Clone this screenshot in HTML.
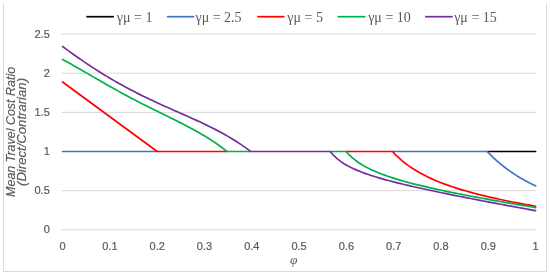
<!DOCTYPE html>
<html><head><meta charset="utf-8"><style>
html,body{margin:0;padding:0;background:#fff;}
body{width:550px;height:276px;overflow:hidden;position:relative;}
svg{position:absolute;left:0;top:0;}
</style></head><body>
<svg width="550" height="276" viewBox="0 0 550 276">
<path d="M3.5,3.5 V271.5 H546.5 V3.5" fill="none" stroke="#d9d9d9" stroke-width="1"/>
<g stroke="#d9d9d9" stroke-width="1"><line x1="61.5" x2="536" y1="229.80" y2="229.80"/><line x1="61.5" x2="536" y1="190.65" y2="190.65"/><line x1="61.5" x2="536" y1="151.50" y2="151.50"/><line x1="61.5" x2="536" y1="112.35" y2="112.35"/><line x1="61.5" x2="536" y1="73.20" y2="73.20"/><line x1="61.5" x2="536" y1="34.05" y2="34.05"/></g>
<g fill="none" stroke-width="1.7" stroke-linejoin="round" stroke-linecap="round"><path d="M487.30,151.50 L535.60,151.50" stroke="#000000"/><path d="M62.60,151.50 L157.20,151.50 M392.50,151.50 L487.30,151.50 L488.12,152.36 L488.94,153.21 L489.76,154.05 L490.57,154.87 L491.39,155.68 L492.21,156.48 L493.03,157.26 L493.85,158.04 L494.67,158.80 L495.49,159.55 L496.31,160.29 L497.12,161.02 L497.94,161.74 L498.76,162.44 L499.58,163.14 L500.40,163.82 L501.22,164.50 L502.04,165.17 L502.85,165.82 L503.67,166.47 L504.49,167.11 L505.31,167.74 L506.13,168.36 L506.95,168.97 L507.77,169.57 L508.58,170.17 L509.40,170.75 L510.22,171.33 L511.04,171.90 L511.86,172.46 L512.68,173.01 L513.50,173.56 L514.32,174.10 L515.13,174.63 L515.95,175.16 L516.77,175.67 L517.59,176.18 L518.41,176.69 L519.23,177.18 L520.05,177.67 L520.86,178.16 L521.68,178.63 L522.50,179.10 L523.32,179.57 L524.14,180.03 L524.96,180.48 L525.78,180.93 L526.59,181.37 L527.41,181.80 L528.23,182.23 L529.05,182.66 L529.87,183.07 L530.69,183.49 L531.51,183.89 L532.33,184.30 L533.14,184.69 L533.96,185.09 L534.78,185.47 L535.60,185.86" stroke="#4472C4"/><path d="M62.60,82.00 L157.20,151.50 L227.10,151.50 M346.00,151.50 L392.50,151.50 L394.93,154.09 L397.35,156.49 L399.78,158.73 L402.20,160.83 L404.63,162.79 L407.05,164.64 L409.48,166.38 L411.90,168.03 L414.33,169.59 L416.75,171.06 L419.18,172.47 L421.61,173.81 L424.03,175.09 L426.46,176.32 L428.88,177.49 L431.31,178.61 L433.73,179.69 L436.16,180.73 L438.58,181.73 L441.01,182.69 L443.43,183.62 L445.86,184.52 L448.28,185.39 L450.71,186.23 L453.14,187.05 L455.56,187.85 L457.99,188.62 L460.41,189.37 L462.84,190.09 L465.26,190.80 L467.69,191.50 L470.11,192.17 L472.54,192.83 L474.96,193.48 L477.39,194.10 L479.82,194.72 L482.24,195.32 L484.67,195.91 L487.09,196.49 L489.52,197.06 L491.94,197.61 L494.37,198.16 L496.79,198.70 L499.22,199.22 L501.64,199.74 L504.07,200.25 L506.49,200.75 L508.92,201.24 L511.35,201.73 L513.77,202.21 L516.20,202.68 L518.62,203.14 L521.05,203.60 L523.47,204.05 L525.90,204.50 L528.32,204.94 L530.75,205.37 L533.17,205.80 L535.60,206.23" stroke="#FF0000"/><path d="M62.60,59.50 L65.39,61.00 L68.18,62.52 L70.96,64.07 L73.75,65.64 L76.54,67.22 L79.33,68.81 L82.12,70.41 L84.91,72.02 L87.69,73.64 L90.48,75.26 L93.27,76.87 L96.06,78.49 L98.85,80.10 L101.63,81.70 L104.42,83.30 L107.21,84.89 L110.00,86.47 L112.79,88.03 L115.57,89.59 L118.36,91.13 L121.15,92.66 L123.94,94.18 L126.73,95.68 L129.52,97.16 L132.30,98.64 L135.09,100.10 L137.88,101.54 L140.67,102.97 L143.46,104.40 L146.24,105.80 L149.03,107.20 L151.82,108.59 L154.61,109.98 L157.40,111.35 L160.18,112.72 L162.97,114.09 L165.76,115.46 L168.55,116.83 L171.34,118.20 L174.13,119.58 L176.91,120.97 L179.70,122.37 L182.49,123.79 L185.28,125.22 L188.07,126.67 L190.85,128.15 L193.64,129.66 L196.43,131.20 L199.22,132.77 L202.01,134.39 L204.79,136.05 L207.58,137.76 L210.37,139.52 L213.16,141.34 L215.95,143.23 L218.74,145.18 L221.52,147.21 L224.31,149.31 L227.10,151.50 L250.70,151.50 M330.10,151.50 L346.00,151.50 L349.21,154.93 L352.43,157.88 L355.64,160.46 L358.85,162.75 L362.07,164.79 L365.28,166.65 L368.49,168.34 L371.71,169.90 L374.92,171.34 L378.14,172.69 L381.35,173.96 L384.56,175.15 L387.78,176.29 L390.99,177.36 L394.20,178.39 L397.42,179.38 L400.63,180.33 L403.84,181.24 L407.06,182.12 L410.27,182.98 L413.48,183.81 L416.70,184.62 L419.91,185.41 L423.13,186.17 L426.34,186.93 L429.55,187.66 L432.77,188.38 L435.98,189.09 L439.19,189.79 L442.41,190.47 L445.62,191.15 L448.83,191.81 L452.05,192.46 L455.26,193.11 L458.47,193.75 L461.69,194.38 L464.90,195.00 L468.12,195.62 L471.33,196.23 L474.54,196.84 L477.76,197.44 L480.97,198.03 L484.18,198.62 L487.40,199.21 L490.61,199.79 L493.82,200.36 L497.04,200.94 L500.25,201.51 L503.46,202.07 L506.68,202.63 L509.89,203.19 L513.11,203.75 L516.32,204.30 L519.53,204.85 L522.75,205.40 L525.96,205.95 L529.17,206.49 L532.39,207.03 L535.60,207.57" stroke="#00B050"/><path d="M62.60,46.50 L65.79,48.85 L68.98,51.17 L72.16,53.46 L75.35,55.73 L78.54,57.96 L81.73,60.17 L84.92,62.34 L88.11,64.48 L91.29,66.59 L94.48,68.66 L97.67,70.70 L100.86,72.71 L104.05,74.68 L107.23,76.61 L110.42,78.51 L113.61,80.38 L116.80,82.21 L119.99,84.01 L123.17,85.77 L126.36,87.50 L129.55,89.20 L132.74,90.87 L135.93,92.51 L139.12,94.12 L142.30,95.70 L145.49,97.26 L148.68,98.79 L151.87,100.30 L155.06,101.79 L158.24,103.26 L161.43,104.72 L164.62,106.16 L167.81,107.59 L171.00,109.01 L174.18,110.42 L177.37,111.83 L180.56,113.24 L183.75,114.65 L186.94,116.07 L190.13,117.49 L193.31,118.93 L196.50,120.38 L199.69,121.85 L202.88,123.35 L206.07,124.87 L209.25,126.42 L212.44,128.01 L215.63,129.63 L218.82,131.31 L222.01,133.02 L225.19,134.80 L228.38,136.63 L231.57,138.52 L234.76,140.48 L237.95,142.52 L241.14,144.63 L244.32,146.83 L247.51,149.12 L250.70,151.50 L330.10,151.50 L333.58,155.44 L337.07,158.66 L340.55,161.35 L344.03,163.67 L347.52,165.70 L351.00,167.51 L354.48,169.15 L357.96,170.65 L361.45,172.04 L364.93,173.34 L368.41,174.56 L371.90,175.71 L375.38,176.80 L378.86,177.85 L382.35,178.86 L385.83,179.83 L389.31,180.77 L392.79,181.68 L396.28,182.57 L399.76,183.43 L403.24,184.28 L406.73,185.11 L410.21,185.92 L413.69,186.72 L417.18,187.50 L420.66,188.28 L424.14,189.04 L427.63,189.79 L431.11,190.54 L434.59,191.27 L438.07,192.00 L441.56,192.72 L445.04,193.44 L448.52,194.15 L452.01,194.85 L455.49,195.55 L458.97,196.24 L462.46,196.93 L465.94,197.61 L469.42,198.29 L472.91,198.97 L476.39,199.64 L479.87,200.31 L483.35,200.98 L486.84,201.64 L490.32,202.30 L493.80,202.96 L497.29,203.61 L500.77,204.27 L504.25,204.92 L507.74,205.57 L511.22,206.21 L514.70,206.86 L518.18,207.50 L521.67,208.14 L525.15,208.78 L528.63,209.42 L532.12,210.06 L535.60,210.69" stroke="#7030A0"/></g>
<g font-family="Liberation Sans, sans-serif" font-size="11" fill="#595959" stroke="#595959" stroke-width="0.2"><text x="49.8" y="233.4" text-anchor="end">0</text><text x="49.8" y="194.2" text-anchor="end">0.5</text><text x="49.8" y="155.1" text-anchor="end">1</text><text x="49.8" y="116.0" text-anchor="end">1.5</text><text x="49.8" y="76.8" text-anchor="end">2</text><text x="49.8" y="37.7" text-anchor="end">2.5</text><text x="62.6" y="249.5" text-anchor="middle">0</text><text x="109.9" y="249.5" text-anchor="middle">0.1</text><text x="157.2" y="249.5" text-anchor="middle">0.2</text><text x="204.5" y="249.5" text-anchor="middle">0.3</text><text x="251.8" y="249.5" text-anchor="middle">0.4</text><text x="299.1" y="249.5" text-anchor="middle">0.5</text><text x="346.4" y="249.5" text-anchor="middle">0.6</text><text x="393.7" y="249.5" text-anchor="middle">0.7</text><text x="441.0" y="249.5" text-anchor="middle">0.8</text><text x="488.3" y="249.5" text-anchor="middle">0.9</text><text x="535.6" y="249.5" text-anchor="middle">1</text></g>
<g stroke-width="1.7"><line x1="86.3" x2="113.8" y1="16.7" y2="16.7" stroke="#000000"/><line x1="166.9" x2="194.2" y1="16.7" y2="16.7" stroke="#4472C4"/><line x1="257.3" x2="284.5" y1="16.7" y2="16.7" stroke="#FF0000"/><line x1="337.6" x2="365.5" y1="16.7" y2="16.7" stroke="#00B050"/><line x1="425.1" x2="452.7" y1="16.7" y2="16.7" stroke="#7030A0"/></g>
<g font-family="Liberation Serif, serif" font-size="14" fill="#595959"><text x="116.8" y="22">γμ = 1</text><text x="195.5" y="22">γμ = 2.5</text><text x="287.3" y="22">γμ = 5</text><text x="368.2" y="22">γμ = 10</text><text x="454.2" y="22">γμ = 15</text></g>
<text x="293.8" y="264.2" font-family="Liberation Serif, serif" font-style="italic" font-size="13.5" fill="#595959" text-anchor="middle">φ</text>
<g font-family="Liberation Sans, sans-serif" font-style="italic" font-size="12" fill="#595959" stroke="#595959" stroke-width="0.15" text-anchor="middle">
<text transform="translate(14.6,131.9) rotate(-90)" textLength="130" lengthAdjust="spacingAndGlyphs">Mean Travel Cost Ratio</text>
<text transform="translate(25.5,132.0) rotate(-90)" textLength="108" lengthAdjust="spacingAndGlyphs">(Direct/Contrarian)</text>
</g>
</svg>
</body></html>
